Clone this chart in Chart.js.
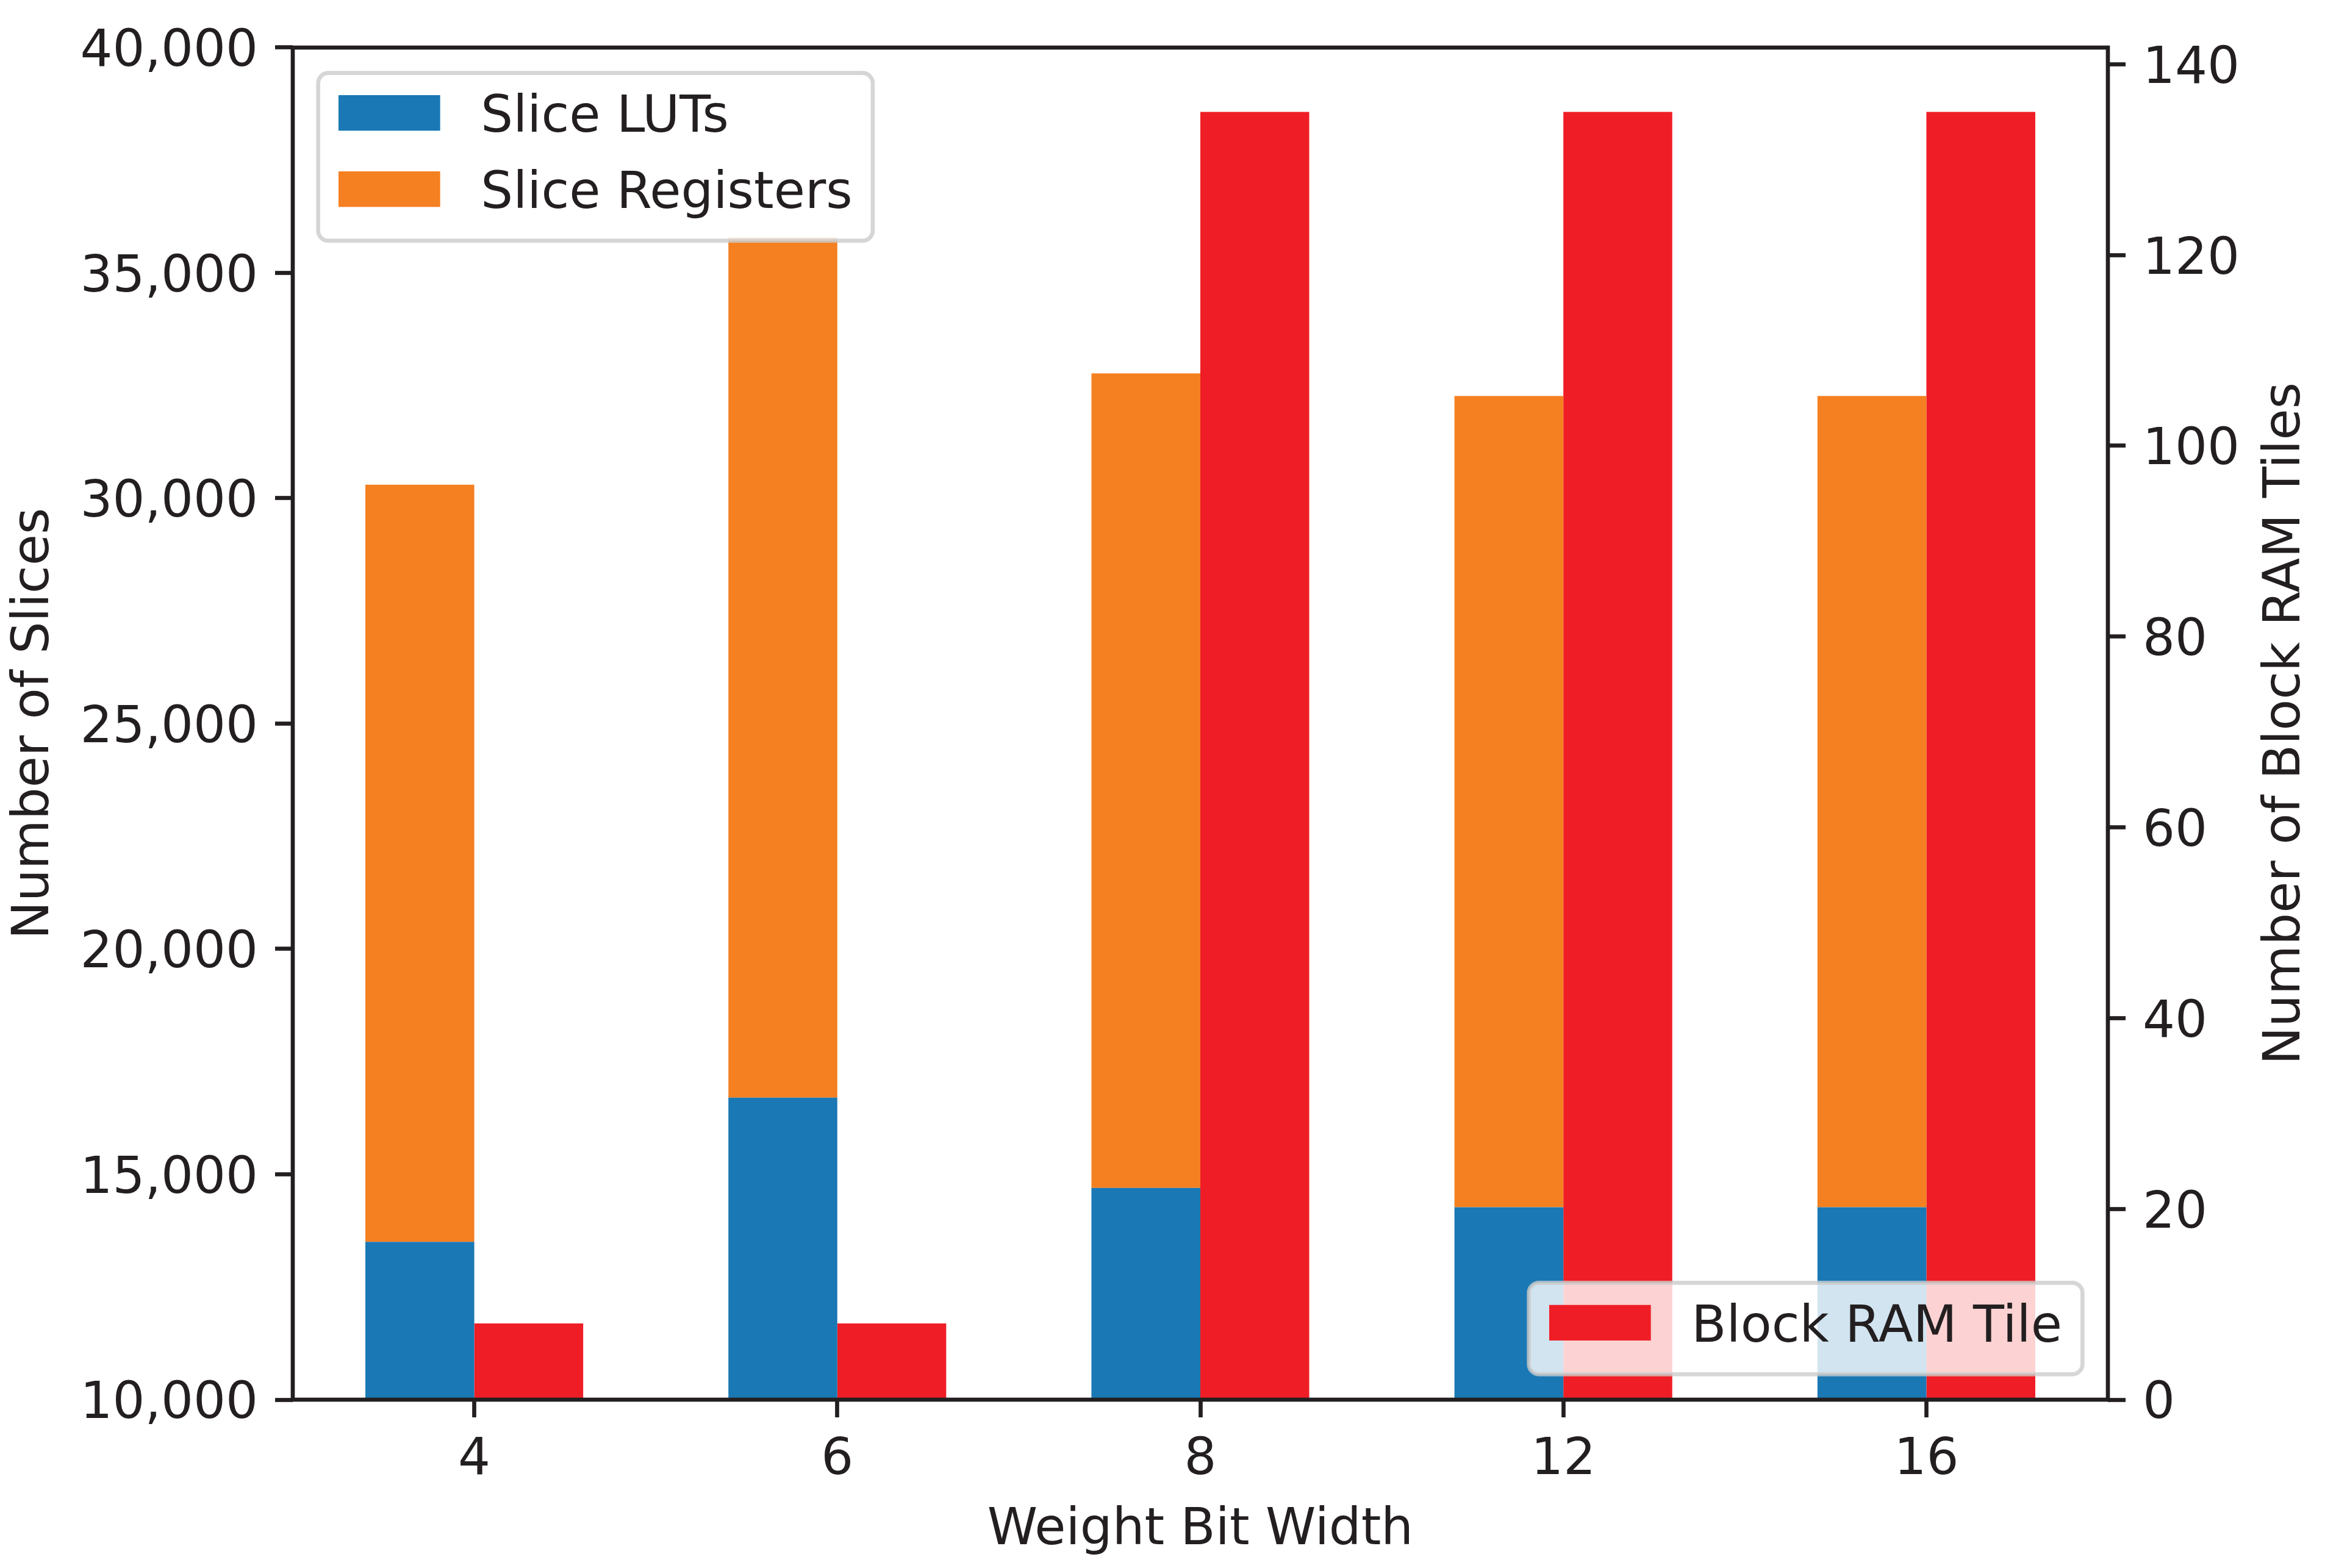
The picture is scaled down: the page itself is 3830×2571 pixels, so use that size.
<!DOCTYPE html>
<html>
<head>
<meta charset="utf-8">
<style>
  html, body { margin: 0; padding: 0; background: #ffffff; }
  canvas { display: block; }
</style>
<script src="https://cdn.jsdelivr.net/npm/chart.js@4.4.1/dist/chart.umd.min.js"></script>
</head>
<body>
<canvas id="c" width="3830" height="2571"></canvas>
<script>
// ---- data ----
const categories = ['4', '6', '8', '12', '16'];            // Weight Bit Width
const sliceLUTs = [13500, 16700, 14700, 14270, 14270];      // bottom segment
const sliceRegisters = [16800, 19080, 18070, 18000, 18000]; // stacked on top of LUTs
const blockRAMTiles = [8, 8, 135, 135, 135];                // right axis

const seriesLabels = ['Slice LUTs', 'Slice Registers', 'Block RAM Tile'];
const axisTitles = { x: 'Weight Bit Width', y: 'Number of Slices', y2: 'Number of Block RAM Tiles' };

// ---- styling ----
const FS = 83.33;
const LW = 6.67;
const INK = '#231f20';
const BLUE = '#1a78b4';
const ORANGE = '#f58021';
const RED = '#ef1e26';
const FONT = "'DejaVu Sans', 'Liberation Sans', sans-serif";

Chart.defaults.font.family = FONT;
Chart.defaults.font.size = FS;
Chart.defaults.color = INK;

// distance from the canvas 'middle' anchor down to the alphabetic baseline for this font
function middleToBaseline() {
  const c = document.createElement('canvas').getContext('2d');
  c.font = FS + 'px ' + FONT;
  c.textBaseline = 'middle';
  const m1 = c.measureText('0');
  c.textBaseline = 'alphabetic';
  const m2 = c.measureText('0');
  const d = m1.actualBoundingBoxDescent - m2.actualBoundingBoxDescent;
  return isFinite(d) && d > 5 && d < 60 ? d : 28.8;
}
const D = middleToBaseline();
const DIGIT_HALF = 0.729 * FS / 2;

function roundRectPath(ctx, x, y, w, h, r) {
  ctx.beginPath();
  ctx.moveTo(x + r, y);
  ctx.lineTo(x + w - r, y);
  ctx.arcTo(x + w, y, x + w, y + r, r);
  ctx.lineTo(x + w, y + h - r);
  ctx.arcTo(x + w, y + h, x + w - r, y + h, r);
  ctx.lineTo(x + r, y + h);
  ctx.arcTo(x, y + h, x, y + h - r, r);
  ctx.lineTo(x, y + r);
  ctx.arcTo(x, y, x + r, y, r);
  ctx.closePath();
}

function drawLegend(ctx, chart, idxs, loc) {
  const a = chart.chartArea;
  const pad = 0.4 * FS, hl = 2 * FS, hh = 0.7 * FS, htp = 0.8 * FS, ls = 0.5 * FS, bap = 0.5 * FS, rowH = FS;
  ctx.font = FS + 'px ' + FONT;
  const items = idxs.map(i => chart.data.datasets[i]);
  const tw = Math.max(...items.map(d => ctx.measureText(d.label).width));
  const w = 2 * pad + hl + htp + tw;
  const h = 2 * pad + items.length * rowH + (items.length - 1) * ls;
  let x0, y0;
  if (loc === 'upper left') { x0 = a.left + bap; y0 = a.top + bap; }
  else { x0 = a.right - bap - w; y0 = a.bottom - bap - h; }
  roundRectPath(ctx, x0, y0, w, h, 0.2 * FS);
  ctx.fillStyle = 'rgba(255,255,255,0.8)';
  ctx.fill();
  ctx.lineWidth = LW;
  ctx.strokeStyle = 'rgba(204,204,204,0.8)';
  ctx.stroke();
  items.forEach((d, k) => {
    const rowTop = y0 + pad + k * (rowH + ls);
    ctx.fillStyle = d.backgroundColor;
    ctx.fillRect(x0 + pad, rowTop + 3, hl, hh);
    ctx.fillStyle = INK;
    ctx.textAlign = 'left';
    ctx.textBaseline = 'alphabetic';
    ctx.fillText(d.label, x0 + pad + hl + htp, rowTop + 63);
  });
}

const mplPlugin = {
  id: 'mplLook',
  afterDatasetsDraw(chart) {
    const { ctx, chartArea: a } = chart;
    ctx.save();
    // axes frame (all four spines)
    ctx.strokeStyle = INK;
    ctx.lineWidth = LW;
    ctx.lineJoin = 'miter';
    ctx.strokeRect(a.left, a.top, a.right - a.left, a.bottom - a.top);
    // legends
    drawLegend(ctx, chart, [0, 1], 'upper left');
    drawLegend(ctx, chart, [2], 'lower right');
    // right axis title, rotated like matplotlib (reads bottom to top)
    const s2 = chart.scales.y2;
    ctx.font = FS + 'px ' + FONT;
    ctx.fillStyle = INK;
    ctx.textAlign = 'center';
    ctx.textBaseline = 'alphabetic';
    ctx.translate(s2.right - 60, (a.top + a.bottom) / 2);
    ctx.rotate(-Math.PI / 2);
    ctx.fillText(chart.options.scales.y2.title.text, 0, 0);
    ctx.restore();
  }
};

const tickGrid = {
  display: true,
  offset: false,
  drawOnChartArea: false,
  drawTicks: true,
  tickLength: 29,
  tickWidth: LW,
  tickColor: INK
};

new Chart(document.getElementById('c'), {
  type: 'bar',
  data: {
    labels: categories,
    datasets: [
      { label: seriesLabels[0], data: sliceLUTs, backgroundColor: BLUE, yAxisID: 'y', stack: 'slices' },
      { label: seriesLabels[1], data: sliceRegisters, backgroundColor: ORANGE, yAxisID: 'y', stack: 'slices' },
      { label: seriesLabels[2], data: blockRAMTiles, backgroundColor: RED, yAxisID: 'y2', stack: 'bram' }
    ]
  },
  options: {
    responsive: false,
    devicePixelRatio: 1,
    animation: false,
    layout: { padding: { top: 77.5, left: 0, right: 0, bottom: 0 } },
    datasets: { bar: { categoryPercentage: 0.6, barPercentage: 1.0, borderWidth: 0 } },
    plugins: { legend: { display: false }, tooltip: { enabled: false } },
    scales: {
      x: {
        type: 'category',
        offset: true,
        grid: tickGrid,
        border: { display: false },
        ticks: { padding: 2417 - D - 2374, maxRotation: 0, minRotation: 0, autoSkip: false, color: INK },
        title: { display: true, text: axisTitles.x, color: INK, padding: { top: 0, bottom: D - 11 } },
        afterFit: s => { s.height = 276; }
      },
      y: {
        type: 'linear',
        position: 'left',
        stacked: true,
        min: 10000,
        max: 40000,
        grid: tickGrid,
        border: { display: false },
        ticks: { stepSize: 5000, padding: 28, labelOffset: DIGIT_HALF - D, color: INK, callback: v => v.toLocaleString('en-US') },
        title: { display: true, text: axisTitles.y, color: INK, padding: { top: 29 - D, bottom: 0 } },
        afterFit: s => { s.width = 480; }
      },
      y2: {
        type: 'linear',
        position: 'right',
        min: 0,
        max: 141.75,
        grid: tickGrid,
        border: { display: false },
        ticks: { stepSize: 20, includeBounds: false, padding: 28, labelOffset: DIGIT_HALF - D, color: INK },
        title: { display: false, text: axisTitles.y2 },
        afterFit: s => { s.width = 374; }
      }
    }
  },
  plugins: [mplPlugin]
});
</script>
</body>
</html>
